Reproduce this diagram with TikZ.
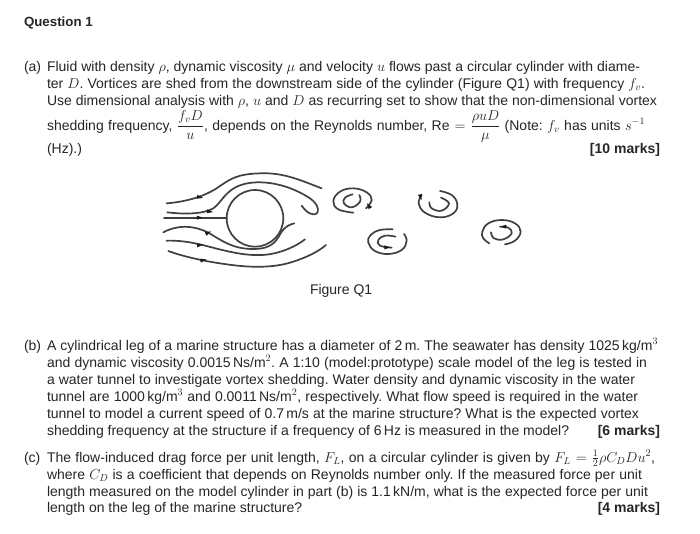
\documentclass[tikz,border=0pt]{standalone}
\usepackage{amsmath}
\usepackage{fontspec}
\setmainfont{Liberation Sans}
\definecolor{ink}{HTML}{262626}
\definecolor{flow}{HTML}{404040}
\newcommand{\jl}[4]{\node[txt] (#1) at (47,#2) {\makebox[#3pt][s]{#4}};}
\tikzset{
  txt/.style={anchor=base west,inner sep=0pt,outer sep=0pt,text=ink,font=\fontsize{14}{16}\selectfont\frenchspacing},
  boldtxt/.style={txt,font=\fontsize{14}{16}\selectfont\bfseries},
  headtxt/.style={txt,font=\fontsize{13.3}{16}\selectfont\bfseries},
  streamline/.style={draw=flow,line width=1.7pt,line cap=round},
  swirl/.style={draw=flow,line width=1.7pt,line cap=round,smooth,tension=0.7},
  flowtip/.pic={\fill[black!90] (-9,-6) -- (9,0) -- (-9,6) -- cycle;}
}
\begin{document}
\begin{tikzpicture}[x=1pt,y=-1pt]
\useasboundingbox[fill=white] (0,0) rectangle (700,533);
\node[headtxt] (q) at (24,26) {Question 1};
\node[txt] (la) at (24,71) {(a)};
\jl{a1}{71}{593}{Fluid with density $\rho$, dynamic viscosity $\mu$ and velocity $u$ flows past a circular cylinder with diame-}
\jl{a2}{88}{598}{ter $D$. Vortices are shed from the downstream side of the cylinder (Figure Q1) with frequency $f_v$.}
\jl{a3}{105}{610}{Use dimensional analysis with $\rho$, $u$ and $D$ as recurring set to show that the non-dimensional vortex}
\jl{a4}{130}{598}{shedding frequency, $\dfrac{f_v D}{u}$, depends on the Reynolds number, $\mathrm{Re}=\dfrac{\rho u D}{\mu}$ (Note: $f_v$ has units $s^{-1}$}
\node[txt] (a5) at (47,153) {(Hz).)};
\node[boldtxt,anchor=base east] (am) at (660,153) {[10 marks]};
\begin{scope}[shift={(150,165)},x=0.3333pt,y=-0.3333pt]
  \draw[flow,line width=1.7pt] (315,160) circle[radius=85];
  \coordinate (cyl) at (230,158);
  \coordinate (s3) at (42,158);
  \draw[streamline] (50,115) .. controls (110,110) and (160,95) .. (200,70) .. controls (240,42) and (260,27) .. (330,25) .. controls (400,22) and (450,45) .. (515,70);
  \draw[streamline] (52,142) .. controls (100,148) and (160,148) .. (190,130) .. controls (220,110) and (230,55) .. (320,52) .. controls (390,50) and (450,80) .. (480,100) .. controls (510,120) and (510,150) .. (490,148) .. controls (475,147) and (465,135) .. (455,122);
  \draw[streamline] (s3) -- (cyl);
  \draw[streamline] (40,202) .. controls (70,185) and (120,175) .. (175,203) .. controls (220,230) and (250,252) .. (310,252) .. controls (370,252) and (380,225) .. (395,200) .. controls (405,185) and (420,178) .. (433,175);
  \draw[streamline] (50,227) .. controls (120,225) and (170,245) .. (230,258) .. controls (290,272) and (340,275) .. (385,262) .. controls (420,252) and (445,238) .. (465,223);
  \draw[streamline] (55,258) .. controls (100,275) and (170,290) .. (230,298) .. controls (300,308) and (370,310) .. (430,290) .. controls (470,277) and (505,260) .. (528,240);
  \pic[rotate=-10] at (150,97) {flowtip};
  \pic[rotate=-8] at (180,140) {flowtip};
  \pic at (150,158) {flowtip};
  \pic[rotate=25] at (175,203) {flowtip};
  \pic[rotate=8] at (150,240) {flowtip};
  \pic[rotate=14] at (160,285) {flowtip};
\end{scope}
\begin{scope}[shift={(330,175)},x=0.3333pt,y=-0.3333pt]
  \draw[swirl] plot coordinates {(70,113) (25,103) (10,78) (30,50) (70,40) (110,52) (125,75) (108,100)};
  \draw[swirl] plot coordinates {(88,60) (90,80) (65,97) (42,85) (45,68) (68,58)};
  \pic[rotate=125] at (116,92) {flowtip};
  \draw[swirl] plot coordinates {(275,60) (266,85) (285,113) (330,127) (370,115) (382,88) (365,60) (330,48)};
  \draw[swirl] plot coordinates {(333,68) (357,85) (335,107) (305,100) (298,82)};
  \pic[rotate=-75] at (272,67) {flowtip};
  \draw[swirl] plot coordinates {(188,163) (150,165) (122,180) (115,203) (135,228) (175,237) (215,225) (230,198) (222,177)};
  \draw[swirl] plot coordinates {(197,185) (165,182) (145,195) (150,212) (185,218)};
  \pic[rotate=3] at (172,217) {flowtip};
  \draw[swirl] plot coordinates {(478,205) (460,190) (457,170) (475,145) (515,135) (555,145) (572,170) (555,197) (525,208)};
  \draw[swirl] plot coordinates {(510,155) (535,158) (545,175) (520,193) (492,190) (483,172)};
  \pic[rotate=180] at (520,155) {flowtip};
\end{scope}
\node[txt] (figcap) at (310,294) {Figure Q1};
\node[txt] (lb) at (24,350) {(b)};
\jl{b1}{350}{611}{A cylindrical leg of a marine structure has a diameter of 2\,m. The seawater has density 1025\,kg/m$^3$}
\jl{b2}{367}{600}{and dynamic viscosity 0.0015\,Ns/m$^2$. A 1:10 (model:prototype) scale model of the leg is tested in}
\jl{b3}{384}{588}{a water tunnel to investigate vortex shedding. Water density and dynamic viscosity in the water}
\jl{b4}{401}{591}{tunnel are 1000\,kg/m$^3$ and 0.0011\,Ns/m$^2$, respectively. What flow speed is required in the water}
\jl{b5}{418}{592}{tunnel to model a current speed of 0.7\,m/s at the marine structure? What is the expected vortex}
\node[txt] (b6) at (47,435) {shedding frequency at the structure if a frequency of 6\,Hz is measured in the model?};
\node[boldtxt,anchor=base east] (bm) at (660,435) {[6 marks]};
\node[txt] (lc) at (24,462) {(c)};
\jl{c1}{462}{608}{The flow-induced drag force per unit length, $F_L$, on a circular cylinder is given by $F_L=\frac{1}{2}\rho C_D D u^2$,}
\jl{c2}{479}{595}{where $C_D$ is a coefficient that depends on Reynolds number only. If the measured force per unit}
\jl{c3}{496}{601}{length measured on the model cylinder in part (b) is 1.1\,kN/m, what is the expected force per unit}
\node[txt] (c4) at (47,512.5) {length on the leg of the marine structure?};
\node[boldtxt,anchor=base east] (cm) at (660,512.5) {[4 marks]};
\end{tikzpicture}
\end{document}
